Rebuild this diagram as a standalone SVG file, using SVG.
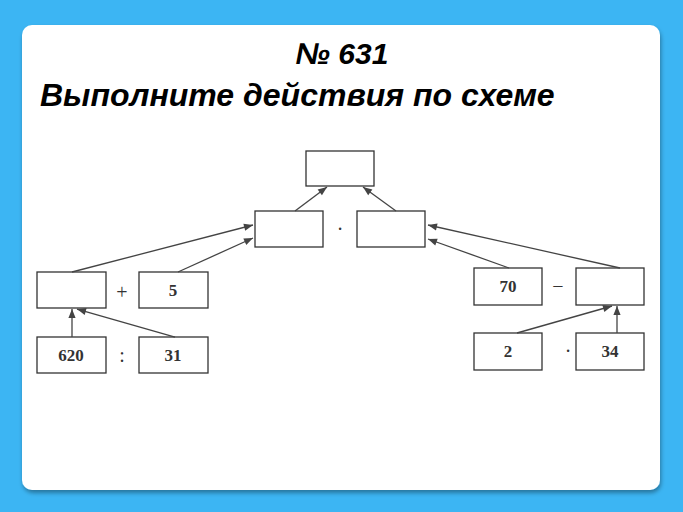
<svg xmlns="http://www.w3.org/2000/svg" width="683" height="512" viewBox="0 0 683 512">
<style>
.b{fill:#fff;stroke:#333;stroke-width:1.3}
.t{font-family:"Liberation Serif",serif;font-size:17px;font-weight:bold;fill:#333;text-anchor:middle}
.o{font-family:"Liberation Serif",serif;font-size:20px;fill:#333;text-anchor:middle}
.h{font-family:"Liberation Sans",Arial,sans-serif;font-weight:bold;font-style:italic;fill:#000}
#c line{stroke:#444;stroke-width:1.3;marker-end:url(#a)}
</style>
<defs>
<marker id="a" viewBox="0 0 10 10" refX="10" refY="5" markerWidth="10" markerHeight="9" orient="auto" markerUnits="userSpaceOnUse"><path d="M0,1 L10,5 L0,9 Z" fill="#444"/></marker>
<filter id="s" x="-5%" y="-5%" width="110%" height="115%"><feDropShadow dx="1" dy="3" stdDeviation="2" flood-color="#000" flood-opacity="0.35"/></filter>
</defs>
<rect width="683" height="512" fill="#3cb5f3"/>
<rect x="22" y="25" width="638" height="465" rx="10" fill="#fff" filter="url(#s)"/>
<text class="h" x="342" y="64" font-size="30" text-anchor="middle">№ 631</text>
<text class="h" x="40" y="106" font-size="32">Выполните действия по схеме</text>
<g id="n0"><rect class="b" x="306" y="151" width="68" height="35"/></g>
<g id="n1"><rect class="b" x="255" y="211" width="68" height="36"/></g>
<g id="n2"><rect class="b" x="357" y="211" width="68" height="36"/></g>
<g id="n3"><rect class="b" x="37" y="272" width="69" height="36"/></g>
<g id="n4"><rect class="b" x="139" y="272" width="69" height="36"/><text class="t" x="173" y="296">5</text></g>
<g id="n5"><rect class="b" x="474" y="268" width="68" height="37"/><text class="t" x="508" y="292">70</text></g>
<g id="n6"><rect class="b" x="576" y="268" width="68" height="37"/></g>
<g id="n7"><rect class="b" x="37" y="337" width="69" height="36"/><text class="t" x="71" y="361">620</text></g>
<g id="n8"><rect class="b" x="139" y="337" width="69" height="36"/><text class="t" x="173" y="361">31</text></g>
<g id="n9"><rect class="b" x="474" y="333" width="68" height="37"/><text class="t" x="508" y="357">2</text></g>
<g id="n10"><rect class="b" x="576" y="333" width="68" height="37"/><text class="t" x="610" y="357">34</text></g>
<g id="ops">
<text class="o" x="340" y="236">·</text><text class="o" x="122" y="299">+</text><text class="o" x="122" y="362">:</text><text class="o" x="558" y="293">−</text><text class="o" x="568" y="358">·</text>
</g>
<g id="c">
<line x1="295" y1="211" x2="327" y2="187"/>
<line x1="396" y1="211" x2="363" y2="187"/>
<line x1="72" y1="272" x2="253" y2="225"/>
<line x1="178" y1="272" x2="253" y2="238"/>
<line x1="509" y1="268" x2="428" y2="239"/>
<line x1="620" y1="268" x2="428" y2="225"/>
<line x1="72" y1="337" x2="72" y2="309"/>
<line x1="175" y1="337" x2="77" y2="309"/>
<line x1="517" y1="333" x2="612" y2="306"/>
<line x1="617" y1="333" x2="617" y2="306"/>
</g>
</svg>
